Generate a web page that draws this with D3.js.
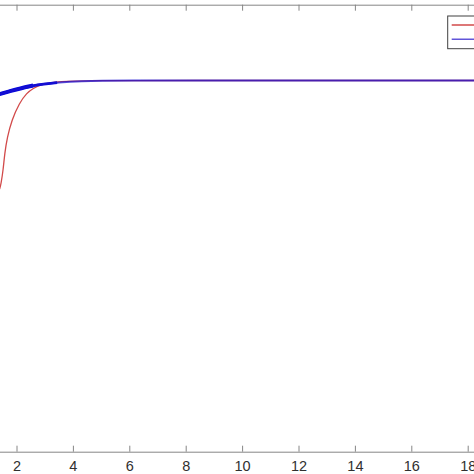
<!DOCTYPE html>
<html>
<head>
<meta charset="utf-8">
<script src="https://cdn.jsdelivr.net/npm/d3@7"></script>
<style>
	body { margin: 0; background: #fff; }
	svg { display: block; }
	.axis path, .axis line { stroke: #868686; stroke-width: 1; }
	.axis text { fill: #303030; font-family: "Liberation Sans", Arial, sans-serif; font-size: 14.5px; }
</style>
</head>
<body>
<svg width="474" height="474"></svg>
<script>
	// x ticks
	var xTicks = [2, 4, 6, 8, 10, 12, 14, 16, 18];

	// red series (time, value)
	var redT = [1.40, 1.45, 1.53, 1.58, 1.67, 1.83, 2.10, 2.36, 2.60, 2.83, 3.19, 3.60, 4.00, 5.00, 6.00, 8.00, 12.0, 16.0, 20.0];
	var redV = [0.705, 0.718, 0.758, 0.800, 0.843, 0.890, 0.936, 0.963, 0.976, 0.984, 0.991, 0.994, 0.995, 0.996, 0.9965, 0.9965, 0.9965, 0.9965, 0.9965];

	// blue series (time, value)
	var blueT = [1.40, 1.77, 2.12, 2.59, 2.94, 3.44, 4.36, 5.00, 6.00, 8.00, 12.0, 16.0, 20.0];
	var blueV = [0.960, 0.968, 0.975, 0.983, 0.987, 0.991, 0.995, 0.996, 0.9965, 0.9965, 0.9965, 0.9965, 0.9965];

	var svg = d3.select("svg");

	var plotTop = 4.7, plotBottom = 451.7;

	var x = d3.scaleLinear().domain([0, 20]).range([-39.9, 524.1]),
		y = d3.scaleLinear().domain([0, 1.2]).range([plotBottom, plotTop]);

	var red = redT.map(function(t, i) { return {t: t, v: redV[i]}; }),
		blue = blueT.map(function(t, i) { return {t: t, v: blueV[i]}; });

	var line = d3.line()
		.x(function(d) { return x(d.t); })
		.y(function(d) { return y(d.v); })
		.curve(d3.curveBasis);

	// Оси
	svg.append("g")
		.attr("class", "axis")
		.attr("transform", "translate(0," + plotTop + ")")
		.call(d3.axisTop(x).tickValues(xTicks).tickSize(-6).tickSizeOuter(0).tickFormat(""));

	var xAxis = svg.append("g")
		.attr("class", "axis")
		.attr("transform", "translate(0," + plotBottom + ")")
		.call(d3.axisBottom(x).tickValues(xTicks).tickSize(-6).tickSizeOuter(0));
	xAxis.selectAll("text").attr("y", 19).attr("dy", null);

	// Линии
	svg.append("path")
		.attr("d", line(red))
		.attr("fill", "none")
		.attr("stroke", "#d24a4a")
		.attr("stroke-width", 1.3);

	// шумная часть синей линии — толще в начале
	svg.append("path")
		.attr("d", line(blue.filter(function(d) { return d.t <= 2.6; })))
		.attr("fill", "none")
		.attr("stroke", "#0a0ad8")
		.attr("stroke-width", 4);
	svg.append("path")
		.attr("d", line(blue.filter(function(d) { return d.t <= 3.45; })))
		.attr("fill", "none")
		.attr("stroke", "#0a0ad8")
		.attr("stroke-width", 2.8);

	svg.append("path")
		.attr("d", line(blue))
		.attr("fill", "none")
		.attr("stroke", "#1a10d0")
		.attr("stroke-opacity", 0.75)
		.attr("stroke-width", 2);

	// Легенда
	var leg = svg.append("g").attr("transform", "translate(447.7,16)");
	leg.append("rect")
		.attr("width", 80)
		.attr("height", 32.7)
		.attr("fill", "#fff")
		.attr("stroke", "#404040")
		.attr("stroke-width", 1);
	leg.append("line")
		.attr("x1", 4).attr("x2", 40).attr("y1", 9).attr("y2", 9)
		.attr("stroke", "#d24a4a").attr("stroke-width", 1.3);
	leg.append("line")
		.attr("x1", 4).attr("x2", 40).attr("y1", 23.3).attr("y2", 23.3)
		.attr("stroke", "#3a2ad0").attr("stroke-opacity", 0.8).attr("stroke-width", 1.6);
</script>
</body>
</html>
